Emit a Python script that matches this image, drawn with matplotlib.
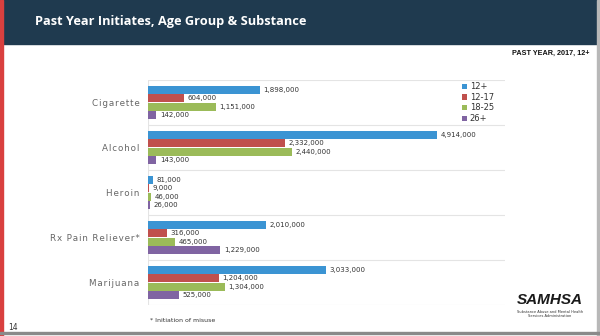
import numpy as np
import matplotlib
matplotlib.use("Agg")
import matplotlib.pyplot as plt
from matplotlib.patches import Rectangle

# data
substances = ["Cigarette", "Alcohol", "Heroin", "Rx Pain Reliever*", "Marijuana"]
groups = ["12+", "12-17", "18-25", "26+"]
colors = ["#3b94d3", "#c0504d", "#9bbb59", "#8064a2"]
vals_12p = [1898000, 4914000, 81000, 2010000, 3033000]
vals_1217 = [604000, 2332000, 9000, 316000, 1204000]
vals_1825 = [1151000, 2440000, 46000, 465000, 1304000]
vals_26p = [142000, 143000, 26000, 1229000, 525000]
series = [vals_12p, vals_1217, vals_1825, vals_26p]

W, H = 600, 336
fig = plt.figure(figsize=(W / 100, H / 100), dpi=100)
fig.patch.set_facecolor("white")

# header band + borders
fig.patches.append(Rectangle((0, 1 - 44 / H), 1, 44 / H, transform=fig.transFigure,
                             color="#1f3a4f", zorder=0))
fig.patches.append(Rectangle((0, 0), 2.5 / W, 1, transform=fig.transFigure,
                             color="#d9403f", zorder=1))
fig.patches.append(Rectangle((597 / W, 0), 3 / W, 1, transform=fig.transFigure,
                             color="#b8b8b8", zorder=1))
fig.patches.append(Rectangle((0, 2 / H), 1, 2 / H, transform=fig.transFigure,
                             color="#8a8a8a", zorder=1))

fig.text(35 / W, 1 - 22 / H, "Past Year Initiates, Age Group & Substance",
         color="white", fontsize=9.2, fontweight="bold", va="center", ha="left",
         family="Open Sans")
fig.text(590 / W, 1 - 53 / H, "PAST YEAR, 2017, 12+", fontsize=5.2,
         fontweight="bold", ha="right", va="center", color="#111111",
         family="Liberation Sans")

ax = fig.add_axes([148 / W, 1 - 305 / H, 357 / W, 225 / H])
y = np.arange(len(substances))
bh = 0.19
for i, (g, c, v) in enumerate(zip(groups, colors, series)):
    pos = y - 1.5 * bh + i * bh
    ax.barh(pos, v, height=bh * 0.97, color=c, label=g)
    for p, val in zip(pos, v):
        ax.text(val + 60000, p, f"{val:,}", fontsize=5, va="center",
                ha="left", color="#333333")

ax.set_xlim(0, 6070000)
ax.set_ylim(len(substances) - 0.5, -0.5)
for b in np.arange(-0.5, len(substances), 1):
    ax.axhline(b, color="#e4e4e4", linewidth=0.8, zorder=0)
ax.axvline(0, color="#e4e4e4", linewidth=0.8, zorder=0)
for s in ax.spines.values():
    s.set_visible(False)
ax.set_xticks([])
ax.set_yticks(y)
# slide labels are slightly letter-spaced
ax.set_yticklabels(["\u200a".join(s) for s in substances],
                   fontsize=6.3, color="#666666")
ax.tick_params(axis="y", length=0, pad=6)

leg = ax.legend(loc="upper left", bbox_to_anchor=(458 / W, 1 - 78 / H),
                bbox_transform=fig.transFigure, frameon=False, fontsize=6,
                handlelength=0.6, handleheight=0.6, handletextpad=0.3,
                labelspacing=0.2, borderpad=0)
for t in leg.get_texts():
    t.set_color("#333333")

fig.text(150 / W, 1 - 321 / H, "* Initiation of misuse", fontsize=4.5,
         color="#333333", va="center")
fig.text(8 / W, 1 - 327 / H, "14", fontsize=5.5, color="#333333", va="center")
fig.text(550 / W, 1 - 300 / H, "SAMHSA", fontsize=11, fontweight="bold",
         style="italic", ha="center", va="center", color="#1a1a1a",
         family="Liberation Sans")
fig.text(550 / W, 1 - 314 / H, "Substance Abuse and Mental Health\nServices Administration",
         fontsize=2.6, ha="center", va="center", color="#333333", linespacing=1.2)

fig.savefig("out.png", dpi=100)
